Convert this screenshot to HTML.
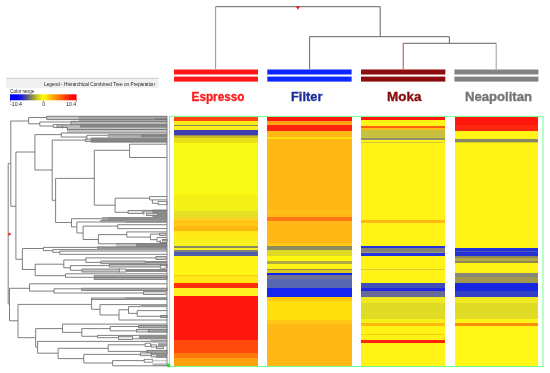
<!DOCTYPE html>
<html><head><meta charset="utf-8"><title>Hierarchical Combined Tree on Preparation</title>
<style>
html,body{margin:0;padding:0;background:#fff;}
body{width:550px;height:373px;overflow:hidden;font-family:"Liberation Sans",sans-serif;}
svg{display:block;}
.lab{font-family:"Liberation Sans",sans-serif;font-weight:bold;font-size:13px;stroke-width:0.35px;}
.tiny{font-family:"Liberation Sans",sans-serif;font-size:5px;fill:#222;}
</style></head><body>
<svg width="550" height="373" viewBox="0 0 550 373">
<defs>
<linearGradient id="lg" x1="0" x2="1" y1="0" y2="0">
<stop offset="0" stop-color="#0000ff"/><stop offset="0.14" stop-color="#0808f8"/><stop offset="0.25" stop-color="#505090"/><stop offset="0.33" stop-color="#8c8c48"/><stop offset="0.42" stop-color="#d0d020"/><stop offset="0.5" stop-color="#ffff00"/><stop offset="0.92" stop-color="#ff0808"/><stop offset="1" stop-color="#ff0000"/>
</linearGradient>
<filter id="b1" x="-2%" y="-2%" width="104%" height="104%"><feGaussianBlur stdDeviation="0.6"/></filter>
<filter id="b2" x="-2%" y="-2%" width="104%" height="104%"><feGaussianBlur stdDeviation="0.35"/></filter>
</defs>
<rect width="550" height="373" fill="#fff"/>
<!-- top dendrogram -->
<g fill="none" stroke-width="1" filter="url(#b2)">
<path d="M215.6 6.7H380.2V36.7M309.6 36.7H449.4V43.3M403.2 43.3H496.2" stroke="#626262"/>
<path d="M215.6 6.7V69" stroke="#ff6a6a"/>
<path d="M309.6 36.6V69" stroke="#5a5af0"/>
<path d="M403.2 43.3V69" stroke="#b04a4a"/>
<path d="M496.2 43.3V69" stroke="#9a9a9a"/>
<path d="M295.9 6.4h4l-2 3.4z" fill="#ff1010" stroke="none"/>
</g>
<!-- header bars -->
<g filter="url(#b2)">
<rect x="174" y="69.5" width="84" height="5" fill="#ff1414"/><rect x="174" y="76.6" width="84" height="5" fill="#ff1414"/>
<rect x="267.3" y="69.5" width="84.3" height="5" fill="#0a28ff"/><rect x="267.3" y="76.6" width="84.3" height="5" fill="#0a28ff"/>
<rect x="361" y="69.5" width="84.3" height="5" fill="#8c0c0c"/><rect x="361" y="76.6" width="84.3" height="5" fill="#8c0c0c"/>
<rect x="454.4" y="69.5" width="84" height="5" fill="#828282"/><rect x="454.4" y="76.6" width="84" height="5" fill="#828282"/>
</g>
<g class="lab" filter="url(#b2)">
<text x="191.6" y="100.7" textLength="52.8" lengthAdjust="spacingAndGlyphs" fill="#ff1a1a" stroke="#ff1a1a">Espresso</text>
<text x="291" y="100.7" textLength="31.4" lengthAdjust="spacingAndGlyphs" fill="#1c2d9c" stroke="#1c2d9c">Filter</text>
<text x="387" y="100.7" textLength="34.4" lengthAdjust="spacingAndGlyphs" fill="#880a0a" stroke="#880a0a">Moka</text>
<text x="465" y="100.7" textLength="67" lengthAdjust="spacingAndGlyphs" fill="#757575" stroke="#757575">Neapolitan</text>
</g>
<!-- legend -->
<g filter="url(#b2)">
<rect x="6" y="78" width="152.5" height="10" fill="#f0f0f0"/>
<rect x="6" y="77.8" width="152.5" height="0.8" fill="#c4c4c4"/>
<text class="tiny" x="44" y="85.6" textLength="111" lengthAdjust="spacingAndGlyphs">Legend - Hierarchical Combined Tree on Preparation</text>
<text class="tiny" x="10.3" y="93.2" textLength="24" lengthAdjust="spacingAndGlyphs">Color range</text>
<rect x="10" y="94.3" width="66.6" height="6" fill="url(#lg)"/>
<path d="M10.3 100.3v1.6M43.3 100.3v1.6M76.3 100.3v1.6" stroke="#555" stroke-width="0.7" fill="none"/>
<text class="tiny" x="10" y="106.4" textLength="12" lengthAdjust="spacingAndGlyphs">-10.4</text>
<text class="tiny" x="42.2" y="106.4">0</text>
<text class="tiny" x="66.2" y="106.4" textLength="9.8" lengthAdjust="spacingAndGlyphs">10.4</text>
</g>
<!-- green frame -->
<rect x="169.5" y="116.4" width="373.5" height="250.1" fill="none" stroke="#70ff88" stroke-width="1" filter="url(#b2)"/>
<g filter="url(#b1)">
<g id="heat" shape-rendering="crispEdges">
<rect x="174" y="116.8" width="84.0" height="4.5" fill="#ff4510"/>
<rect x="174" y="121.0" width="84.0" height="4.4" fill="#fbea1e"/>
<rect x="174" y="125.1" width="84.0" height="1.5" fill="#8c8a60"/>
<rect x="174" y="126.3" width="84.0" height="4.4" fill="#f8ec1c"/>
<rect x="174" y="130.4" width="84.0" height="4.4" fill="#4040b0"/>
<rect x="174" y="134.5" width="84.0" height="1.8" fill="#989050"/>
<rect x="174" y="136.0" width="84.0" height="2.0" fill="#c8c028"/>
<rect x="174" y="137.7" width="84.0" height="5.2" fill="#e8e018"/>
<rect x="174" y="142.6" width="84.0" height="52.9" fill="#f9f914"/>
<rect x="174" y="195.2" width="84.0" height="15.7" fill="#f4f016"/>
<rect x="174" y="210.6" width="84.0" height="7.4" fill="#e4de26"/>
<rect x="174" y="217.7" width="84.0" height="3.1" fill="#ffd020"/>
<rect x="174" y="220.5" width="84.0" height="2.8" fill="#ffc010"/>
<rect x="174" y="223.0" width="84.0" height="3.5" fill="#ffc818"/>
<rect x="174" y="226.2" width="84.0" height="5.2" fill="#ffb810"/>
<rect x="174" y="231.1" width="84.0" height="8.5" fill="#ffea18"/>
<rect x="174" y="239.3" width="84.0" height="7.2" fill="#f8f020"/>
<rect x="174" y="246.2" width="84.0" height="2.0" fill="#888860"/>
<rect x="174" y="247.9" width="84.0" height="2.5" fill="#f8f020"/>
<rect x="174" y="250.1" width="84.0" height="2.5" fill="#808080"/>
<rect x="174" y="252.3" width="84.0" height="4.0" fill="#5060a8"/>
<rect x="174" y="256.0" width="84.0" height="19.5" fill="#fff416"/>
<rect x="174" y="275.2" width="84.0" height="1.4" fill="#ffc818"/>
<rect x="174" y="276.3" width="84.0" height="6.5" fill="#ffe818"/>
<rect x="174" y="282.5" width="84.0" height="5.7" fill="#ff3010"/>
<rect x="174" y="287.9" width="84.0" height="8.8" fill="#fff020"/>
<rect x="174" y="296.4" width="84.0" height="44.1" fill="#ff1410"/>
<rect x="174" y="340.2" width="84.0" height="12.6" fill="#ff4810"/>
<rect x="174" y="352.5" width="84.0" height="6.0" fill="#ff7810"/>
<rect x="174" y="358.2" width="84.0" height="8.1" fill="#ffa010"/>
<rect x="267.2" y="116.8" width="84.4" height="4.4" fill="#ff1810"/>
<rect x="267.2" y="120.9" width="84.4" height="4.0" fill="#ffa018"/>
<rect x="267.2" y="124.6" width="84.4" height="6.4" fill="#ff2010"/>
<rect x="267.2" y="130.7" width="84.4" height="6.5" fill="#ffb818"/>
<rect x="267.2" y="136.9" width="84.4" height="1.9" fill="#ffe010"/>
<rect x="267.2" y="138.5" width="84.4" height="71.8" fill="#ffb812"/>
<rect x="267.2" y="210.0" width="84.4" height="3.3" fill="#ffc018"/>
<rect x="267.2" y="213.0" width="84.4" height="4.5" fill="#ffb812"/>
<rect x="267.2" y="217.2" width="84.4" height="3.6" fill="#ff7818"/>
<rect x="267.2" y="220.5" width="84.4" height="23.2" fill="#ffb812"/>
<rect x="267.2" y="243.4" width="84.4" height="3.2" fill="#ffc814"/>
<rect x="267.2" y="246.3" width="84.4" height="3.5" fill="#8c8c60"/>
<rect x="267.2" y="249.5" width="84.4" height="6.3" fill="#e0d828"/>
<rect x="267.2" y="255.5" width="84.4" height="5.3" fill="#fff810"/>
<rect x="267.2" y="260.5" width="84.4" height="3.5" fill="#b0a840"/>
<rect x="267.2" y="263.7" width="84.4" height="5.2" fill="#fff416"/>
<rect x="267.2" y="268.6" width="84.4" height="2.0" fill="#908850"/>
<rect x="267.2" y="270.3" width="84.4" height="2.7" fill="#d8c828"/>
<rect x="267.2" y="272.7" width="84.4" height="2.8" fill="#1020f0"/>
<rect x="267.2" y="275.2" width="84.4" height="3.6" fill="#707090"/>
<rect x="267.2" y="278.5" width="84.4" height="9.7" fill="#5868b0"/>
<rect x="267.2" y="287.9" width="84.4" height="9.3" fill="#1428f0"/>
<rect x="267.2" y="296.9" width="84.4" height="4.7" fill="#ffc810"/>
<rect x="267.2" y="301.3" width="84.4" height="19.1" fill="#ffe010"/>
<rect x="267.2" y="320.1" width="84.4" height="4.4" fill="#ffc818"/>
<rect x="267.2" y="324.2" width="84.4" height="42.1" fill="#ffb812"/>
<rect x="361" y="116.8" width="84.2" height="3.7" fill="#ff1810"/>
<rect x="361" y="120.2" width="84.2" height="5.6" fill="#fff416"/>
<rect x="361" y="125.5" width="84.2" height="2.7" fill="#ff6010"/>
<rect x="361" y="127.9" width="84.2" height="1.9" fill="#ffc018"/>
<rect x="361" y="129.5" width="84.2" height="8.5" fill="#c8c03c"/>
<rect x="361" y="137.7" width="84.2" height="2.5" fill="#909070"/>
<rect x="361" y="139.9" width="84.2" height="1.9" fill="#fff416"/>
<rect x="361" y="141.5" width="84.2" height="1.6" fill="#d0c830"/>
<rect x="361" y="142.8" width="84.2" height="77.5" fill="#fff416"/>
<rect x="361" y="220.0" width="84.2" height="3.2" fill="#ffb818"/>
<rect x="361" y="222.9" width="84.2" height="23.6" fill="#fff416"/>
<rect x="361" y="246.2" width="84.2" height="2.3" fill="#2030e0"/>
<rect x="361" y="248.2" width="84.2" height="4.3" fill="#808078"/>
<rect x="361" y="252.2" width="84.2" height="0.9" fill="#9c9c70"/>
<rect x="361" y="252.8" width="84.2" height="3.9" fill="#2030e0"/>
<rect x="361" y="256.4" width="84.2" height="13.0" fill="#fff416"/>
<rect x="361" y="269.1" width="84.2" height="1.5" fill="#d8d030"/>
<rect x="361" y="270.3" width="84.2" height="12.5" fill="#fff416"/>
<rect x="361" y="282.5" width="84.2" height="5.7" fill="#4050b8"/>
<rect x="361" y="287.9" width="84.2" height="3.5" fill="#2028e0"/>
<rect x="361" y="291.1" width="84.2" height="6.4" fill="#686898"/>
<rect x="361" y="297.2" width="84.2" height="6.0" fill="#f0e820"/>
<rect x="361" y="302.9" width="84.2" height="16.7" fill="#e0dc28"/>
<rect x="361" y="319.3" width="84.2" height="4.4" fill="#f8f018"/>
<rect x="361" y="323.4" width="84.2" height="2.4" fill="#ffb810"/>
<rect x="361" y="325.5" width="84.2" height="8.4" fill="#fff416"/>
<rect x="361" y="333.6" width="84.2" height="2.0" fill="#ffc818"/>
<rect x="361" y="335.3" width="84.2" height="4.7" fill="#fff416"/>
<rect x="361" y="339.7" width="84.2" height="3.6" fill="#ff2010"/>
<rect x="361" y="343.0" width="84.2" height="23.3" fill="#fff418"/>
<rect x="454.5" y="116.8" width="83.8" height="8.1" fill="#ff1810"/>
<rect x="454.5" y="124.6" width="83.8" height="6.4" fill="#ff2810"/>
<rect x="454.5" y="130.7" width="83.8" height="8.5" fill="#fff416"/>
<rect x="454.5" y="138.9" width="83.8" height="2.9" fill="#888868"/>
<rect x="454.5" y="141.5" width="83.8" height="1.9" fill="#d8d028"/>
<rect x="454.5" y="143.1" width="83.8" height="105.1" fill="#fff416"/>
<rect x="454.5" y="247.9" width="83.8" height="3.0" fill="#2030d8"/>
<rect x="454.5" y="250.6" width="83.8" height="2.0" fill="#5058b0"/>
<rect x="454.5" y="252.3" width="83.8" height="4.4" fill="#2030d8"/>
<rect x="454.5" y="256.4" width="83.8" height="1.6" fill="#908850"/>
<rect x="454.5" y="257.7" width="83.8" height="3.9" fill="#b0a840"/>
<rect x="454.5" y="261.3" width="83.8" height="1.9" fill="#908850"/>
<rect x="454.5" y="262.9" width="83.8" height="10.1" fill="#fff416"/>
<rect x="454.5" y="272.7" width="83.8" height="4.4" fill="#888878"/>
<rect x="454.5" y="276.8" width="83.8" height="6.0" fill="#a09850"/>
<rect x="454.5" y="282.5" width="83.8" height="8.9" fill="#1828e0"/>
<rect x="454.5" y="291.1" width="83.8" height="5.9" fill="#3040c8"/>
<rect x="454.5" y="296.7" width="83.8" height="6.5" fill="#f0e820"/>
<rect x="454.5" y="302.9" width="83.8" height="16.7" fill="#e0dc28"/>
<rect x="454.5" y="319.3" width="83.8" height="3.9" fill="#fff416"/>
<rect x="454.5" y="322.9" width="83.8" height="2.9" fill="#ff9010"/>
<rect x="454.5" y="325.5" width="83.8" height="40.8" fill="#fff818"/>
</g>
</g>
<!-- left dendrogram -->
<g filter="url(#b2)">
<g><rect x="46.7" y="116.2" width="120.3" height="3.4" fill="#c8c8c8"/><rect x="78.7" y="116.2" width="88.3" height="3.4" fill="#a4a4a4"/><rect x="79.0" y="119.6" width="88.0" height="1.6" fill="#b4b4b4"/><rect x="71.0" y="121.2" width="96.0" height="3.4" fill="#b8b8b8"/><rect x="56.0" y="124.6" width="111.0" height="3.4" fill="#bcbcbc"/><rect x="80.0" y="124.6" width="87.0" height="3.9" fill="#9c9c9c"/><rect x="67.0" y="128.0" width="100.0" height="5.0" fill="#c4c4c4"/><rect x="155.0" y="118.0" width="12.0" height="2.0" fill="#8a8a8a"/><rect x="107.6" y="134.7" width="32.9" height="2.8" fill="#b0b0b0"/><rect x="140.5" y="134.5" width="26.5" height="3.0" fill="#888888"/><rect x="90.7" y="137.5" width="76.3" height="4.6" fill="#868686"/><rect x="85.3" y="139.0" width="4.9" height="2.4" fill="#e4e4e4" stroke="#727272" stroke-width="0.8"/><rect x="158.2" y="201.6" width="8.8" height="3.1" fill="#ffffff" stroke="#727272" stroke-width="0.8"/><rect x="128.1" y="210.4" width="14.4" height="3.2" fill="#e2e2e2" stroke="#727272" stroke-width="0.8"/><rect x="142.5" y="210.2" width="24.5" height="2.3" fill="#b0b0b0"/><rect x="152.4" y="209.6" width="14.6" height="7.4" fill="#8c8c8c"/><rect x="146.5" y="213.2" width="11.1" height="2.4" fill="#d8d8d8" stroke="#727272" stroke-width="0.8"/><rect x="102.0" y="217.0" width="65.0" height="3.3" fill="#a0a0a0"/><rect x="107.9" y="217.0" width="59.1" height="3.3" fill="#8c8c8c"/><rect x="100.0" y="220.5" width="25.5" height="1.8" fill="#d4d4d4"/><rect x="125.5" y="220.3" width="41.5" height="2.5" fill="#8a8a8a"/><rect x="159.6" y="233.2" width="6.4" height="2.2" fill="#d0d0d0" stroke="#727272" stroke-width="0.8"/><rect x="162.5" y="239.4" width="4.5" height="1.6" fill="#c0c0c0" stroke="#727272" stroke-width="0.8"/><rect x="160.2" y="242.0" width="6.8" height="6.0" fill="#909090"/><rect x="115.7" y="243.5" width="20.3" height="3.4" fill="#c4c4c4"/><rect x="136.0" y="243.5" width="31.0" height="3.4" fill="#8a8a8a"/><rect x="97.0" y="246.9" width="70.0" height="3.4" fill="#9a9a9a"/><rect x="156.0" y="256.5" width="10.2" height="2.9" fill="#cccccc" stroke="#727272" stroke-width="0.8"/><rect x="100.9" y="261.0" width="44.3" height="2.7" fill="#c6c6c6" stroke="#727272" stroke-width="0.8"/><rect x="145.2" y="261.0" width="21.8" height="2.7" fill="#8c8c8c"/><rect x="109.3" y="264.4" width="57.7" height="2.6" fill="#cacaca" stroke="#727272" stroke-width="0.8"/><rect x="160.3" y="265.4" width="5.9" height="2.8" fill="#ffffff" stroke="#727272" stroke-width="0.8"/><rect x="82.0" y="269.0" width="37.3" height="3.0" fill="#c6c6c6" stroke="#727272" stroke-width="0.8"/><rect x="119.3" y="269.0" width="6.7" height="3.0" fill="#f4f4f4" stroke="#727272" stroke-width="0.8"/><rect x="126.0" y="269.0" width="41.0" height="3.0" fill="#8c8c8c"/><rect x="94.2" y="275.7" width="72.8" height="3.7" fill="#acacac" stroke="#727272" stroke-width="0.8"/><rect x="81.7" y="288.2" width="85.3" height="2.3" fill="#acacac" stroke="#727272" stroke-width="0.8"/><rect x="143.5" y="291.6" width="22.7" height="2.9" fill="#d8d8d8" stroke="#727272" stroke-width="0.8"/><rect x="91.6" y="298.0" width="33.8" height="1.6" fill="#d8d8d8" stroke="#727272" stroke-width="0.8"/><rect x="125.4" y="297.2" width="41.6" height="2.8" fill="#8e8e8e"/><rect x="140.4" y="304.0" width="26.6" height="3.2" fill="#9c9c9c"/><rect x="160.6" y="315.4" width="6.4" height="2.2" fill="#aaaaaa" stroke="#727272" stroke-width="0.8"/><rect x="138.4" y="325.6" width="28.6" height="2.3" fill="#a8a8a8" stroke="#727272" stroke-width="0.8"/><rect x="136.5" y="329.5" width="12.2" height="2.5" fill="#dcdcdc" stroke="#727272" stroke-width="0.8"/><rect x="148.7" y="329.5" width="18.3" height="2.7" fill="#a0a0a0" stroke="#727272" stroke-width="0.8"/><rect x="139.0" y="334.7" width="28.0" height="4.7" fill="#909090"/><rect x="118.4" y="336.3" width="14.2" height="3.1" fill="#e2e2e2" stroke="#727272" stroke-width="0.8"/><rect x="132.6" y="337.8" width="6.4" height="1.6" fill="#aaaaaa"/><rect x="150.6" y="339.9" width="16.4" height="2.7" fill="#a0a0a0"/><rect x="145.2" y="343.2" width="5.4" height="3.3" fill="#ffffff" stroke="#727272" stroke-width="0.8"/><rect x="151.3" y="344.9" width="5.1" height="2.2" fill="#f0f0f0" stroke="#727272" stroke-width="0.8"/><rect x="156.4" y="346.4" width="7.1" height="2.0" fill="#e0e0e0" stroke="#727272" stroke-width="0.8"/><rect x="158.0" y="343.2" width="9.0" height="3.2" fill="#9a9a9a"/><rect x="146.7" y="350.3" width="20.3" height="3.2" fill="#a0a0a0" stroke="#727272" stroke-width="0.8"/><rect x="140.3" y="352.9" width="11.0" height="2.8" fill="#e0e0e0" stroke="#727272" stroke-width="0.8"/><rect x="151.3" y="354.2" width="5.1" height="2.7" fill="#dddddd" stroke="#727272" stroke-width="0.8"/><rect x="156.4" y="353.5" width="10.6" height="4.5" fill="#909090"/><rect x="144.2" y="359.3" width="8.3" height="2.9" fill="#ffffff" stroke="#727272" stroke-width="0.8"/><rect x="152.5" y="359.9" width="14.5" height="1.5" fill="#cccccc"/><rect x="152.5" y="363.3" width="14.5" height="2.5" fill="#bbbbbb"/></g>
<path d="M8.2 163.4V304.5M8.2 163.4H10.8M9.5 288.3V320.8M9.5 288.3H29.5M9.5 320.8H18.0M10.8 121.0V206.3M10.8 206.3H15.9M15.9 152.0V259.3M15.9 259.3H22.4M10.8 121.0H28.6M28.6 117.5V123.8M28.6 117.5H46.7M28.6 123.8H39.8M39.8 122.0V126.0M39.8 122.0H71.0M39.8 126.0H53.2M53.2 124.7V127.4M46.7 116.3H167.0M46.7 119.6H167.0M71.0 121.4H167.0M53.2 124.7H167.0M80.0 126.0H167.0M53.2 127.4H67.0M67.0 129.5H167.0M61.3 133.0H167.0M46.7 116.2V119.6M71.0 121.2V124.6M62.4 125.5V128.4M67.3 127.0V130.0M61.3 132.6V137.1M34.9 134.6H61.3M61.3 137.0H86.9M86.9 135.3V140.2M86.9 135.3H107.6M107.6 134.7H167.0M90.7 142.1H167.0M34.9 134.6V170.0M15.9 152.0H34.9M34.9 170.0H52.2M52.2 140.1V200.3M52.2 140.1H85.3M52.2 200.3H55.6M55.6 178.4V222.5M55.6 178.4H94.3M55.6 222.5H71.5M94.3 150.3V205.2M94.3 150.3H129.6M94.3 205.2H115.1M129.6 144.2V157.5M129.6 144.2H167.0M129.6 157.5H167.0M115.1 198.2V212.3M115.1 198.2H149.7M115.1 212.3H128.1M149.7 196.6V199.9M149.7 196.6H167.0M149.7 199.9H167.0M152.4 199.9V203.3M152.4 203.3H158.2M143.8 212.0V215.0M142.5 210.4H167.0M71.5 218.7V226.9M71.5 218.7H102.0M71.5 226.9H76.9M76.9 222.0V233.0M76.9 222.0H125.5M100.0 220.7H125.5M76.9 233.0H83.1M83.1 226.1V239.5M83.1 226.1H117.7M83.1 239.5H98.4M117.7 224.7V228.6M117.7 224.7H167.0M117.7 228.6H167.0M98.4 234.6V243.8M98.4 234.6H126.8M98.4 243.8H115.7M126.8 231.9V237.1M126.8 231.9H167.0M126.8 237.1H150.4M150.4 234.1V239.7M150.4 234.1H159.6M150.4 239.7H156.9M156.9 237.5V241.7M156.9 237.5H167.0M156.9 241.7H160.2M160.2 240.1V243.0M115.7 243.6H167.0M97.0 246.9H167.0M22.4 248.5V269.5M22.4 248.5H43.4M22.4 269.5H35.2M43.4 247.4V250.6M43.4 247.4H97.0M43.4 250.6H52.7M52.7 249.5V252.3M52.7 249.6H97.0M52.7 252.3H59.7M59.7 251.2V254.4M59.7 251.1H167.0M59.7 254.3H167.0M35.2 264.2V275.7M35.2 264.2H63.8M35.2 275.7H65.5M63.8 260.0V267.8M63.8 260.0H85.9M63.8 267.8H70.4M85.9 257.7V262.4M85.9 257.9H156.0M85.9 262.4H100.9M70.4 265.4V270.3M70.4 265.6H109.3M70.4 270.3H82.0M65.5 274.0V277.3M65.5 273.8H167.0M65.5 277.3H94.2M94.2 277.5H167.0M29.5 283.8H167.0M29.5 283.8V291.1M29.5 291.1H54.0M54.0 288.8V293.2M54.0 288.8H81.7M54.0 293.0H143.5M18.0 304.4V337.7M18.0 304.4H91.6M18.0 337.7H35.7M91.6 298.7V309.3M91.6 309.3H100.0M100.0 304.6V315.0M100.0 304.6H140.4M100.0 315.0H119.0M119.0 309.8V320.0M119.0 309.8H128.5M119.0 320.0H167.0M128.5 306.6V313.4M128.5 306.6H140.4M128.5 313.4H137.2M137.2 310.6V316.3M137.2 310.6H167.0M137.2 316.3H160.6M35.7 328.6V347.1M35.7 328.6H62.5M35.7 347.1H37.6M62.5 324.2V332.4M62.5 324.1H167.0M62.5 332.4H81.8M81.8 328.6V336.3M81.8 328.6H110.2M81.8 336.3H97.5M110.2 326.5V330.8M110.2 326.5H138.4M110.2 330.8H136.5M97.5 335.3V337.7M97.5 335.4H139.0M97.5 337.7H118.4M37.6 341.4V353.2M37.6 341.4H150.6M37.6 353.2H58.1M58.1 348.3V358.6M58.1 348.3H108.2M58.1 358.6H83.8M108.2 344.6V351.4M108.2 344.8H145.2M108.2 351.4H146.7M83.8 354.5V363.0M83.8 354.4H140.3M83.8 363.0H112.6M112.6 360.5V365.8M112.6 360.6H144.2M112.6 365.8H167.0M167.0 116.2V366.0" fill="none" stroke="#727272" stroke-width="0.9"/>
<path d="M8.4 232.6l3 1.6l-3 1.6z" fill="#ff1010"/>
</g>
<rect x="167" y="363.6" width="3.2" height="3.4" fill="#10f020"/>
</svg>
</body></html>
